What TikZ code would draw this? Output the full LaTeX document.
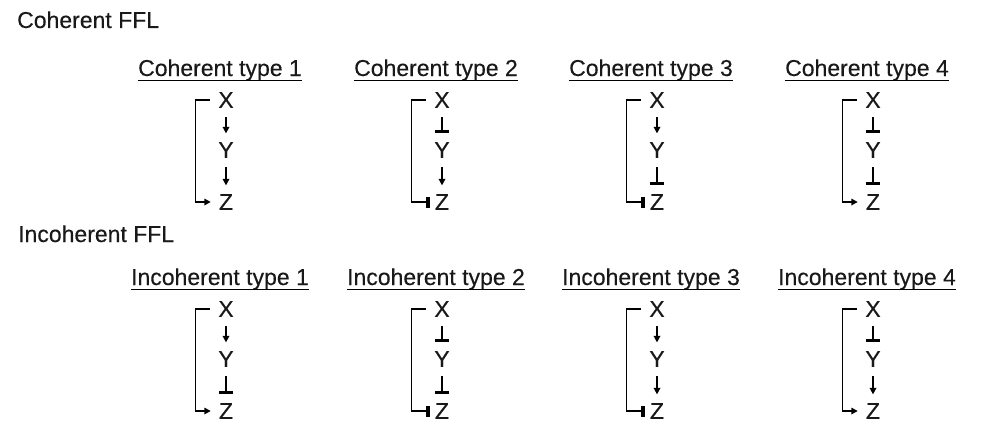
\documentclass[tikz,border=0pt]{standalone}
\usepackage{fontspec}
\setmainfont{Liberation Sans}[UprightFeatures={FakeBold=0.3}]
\usetikzlibrary{arrows.meta}
\tikzset{
  lbl/.style={font=\fontsize{23}{27}\selectfont, inner sep=0pt, text=black!90},
  act/.style={line width=1.6pt, -{Triangle[length=6.5pt,width=6.5pt]}, shorten <=9pt, shorten >=8.5pt},
  inh/.style={line width=1.6pt, -{Rectangle[length=3.4pt,width=14pt]}, shorten <=9pt, shorten >=8.5pt},
  fact/.style={line width=1.6pt, -{Triangle[length=6.5pt,width=6.5pt]}, shorten <=8pt, shorten >=8pt},
  finh/.style={line width=1.6pt, -{Rectangle[length=3.4pt,width=11pt]}, shorten <=8pt, shorten >=5pt},
  uline/.style={line width=1.4pt}
}
\newcommand\fflmotif[7]{%
  \node[lbl, anchor=base] (#1h) at (#2-6,#3-24) {#4};
  \draw[uline] ([yshift=-4.5pt]#1h.base west) -- ([yshift=-4.5pt]#1h.base east);
  \node[lbl] (#1X) at (#2,#3) {X};
  \node[lbl] (#1Y) at (#2,#3+50) {Y};
  \node[lbl] (#1Z) at (#2,#3+102) {Z};
  \draw[#5] (#1X) -- (#1Y);
  \draw[#6] (#1Y) -- (#1Z);
  \draw[#7] (#1X.west) -- ++(-22.5,0) |- (#1Z.west);
}
\begin{document}
\begin{tikzpicture}[x=1pt,y=-1pt]
\useasboundingbox (0,0) rectangle (981,444);
\node[lbl, anchor=base west] (tc) at (17,28) {Coherent FFL};
\node[lbl, anchor=base west] (ti) at (18,242) {Incoherent FFL};
\fflmotif{ca}{226}{100}{Coherent type 1}{act}{act}{fact}
\fflmotif{cb}{442}{100}{Coherent type 2}{inh}{act}{finh}
\fflmotif{cc}{657}{100}{Coherent type 3}{act}{inh}{finh}
\fflmotif{cd}{873}{100}{Coherent type 4}{inh}{inh}{fact}
\fflmotif{ia}{226}{309}{Incoherent type 1}{act}{inh}{fact}
\fflmotif{ib}{442}{309}{Incoherent type 2}{inh}{inh}{finh}
\fflmotif{ic}{657}{309}{Incoherent type 3}{act}{act}{finh}
\fflmotif{id}{873}{309}{Incoherent type 4}{inh}{act}{fact}
\end{tikzpicture}
\end{document}
